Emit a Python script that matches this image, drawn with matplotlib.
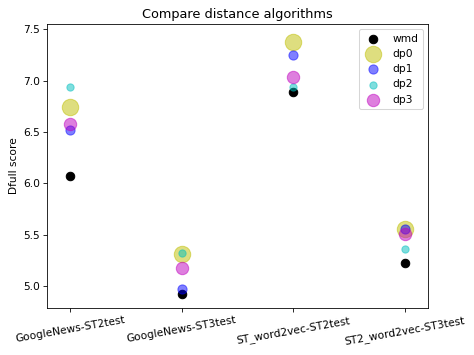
import matplotlib
matplotlib.use("Agg")
import matplotlib.pyplot as plt
import numpy as np

categories = ["GoogleNews-ST2test", "GoogleNews-ST3test", "ST_word2vec-ST2test", "ST2_word2vec-ST3test"]
wmd = [6.075, 4.926, 6.894, 5.223]
dp0 = [6.742, 5.317, 7.377, 5.560]
dp1 = [6.516, 4.974, 7.244, 5.557]
dp2 = [6.933, 5.324, 6.937, 5.359]
dp3 = [6.577, 5.181, 7.037, 5.508]

series = [
    ("wmd", wmd, "k", 1.0, 68),
    ("dp0", dp0, "y", 0.5, 256),
    ("dp1", dp1, "b", 0.5, 80),
    ("dp2", dp2, "c", 0.5, 50),
    ("dp3", dp3, "m", 0.5, 146),
]

fig = plt.figure(figsize=(474 / 74, 355 / 74), dpi=74)
ax = fig.add_axes([47 / 474, 1 - 308 / 355, 381 / 474, 284 / 355])
x = np.arange(len(categories))
for name, vals, c, a, s in series:
    ax.scatter(x, vals, s=s, c=c, alpha=a, label=name)

ax.set_xticks(x)
ax.set_xticklabels(categories, rotation=10, fontsize=10.3)
ax.set_xlim(-0.21, 3.21)
ax.set_ylim(4.79, 7.55)
ax.set_yticks([5.0, 5.5, 6.0, 6.5, 7.0, 7.5])
ax.tick_params(axis="y", labelsize=10.3)
ax.set_ylabel("Dfull score", fontsize=10.3)
ax.set_title("Compare distance algorithms", fontsize=12.5)
ax.legend(loc="upper right", fontsize=10.3)
fig.savefig("out.png", dpi=74)
